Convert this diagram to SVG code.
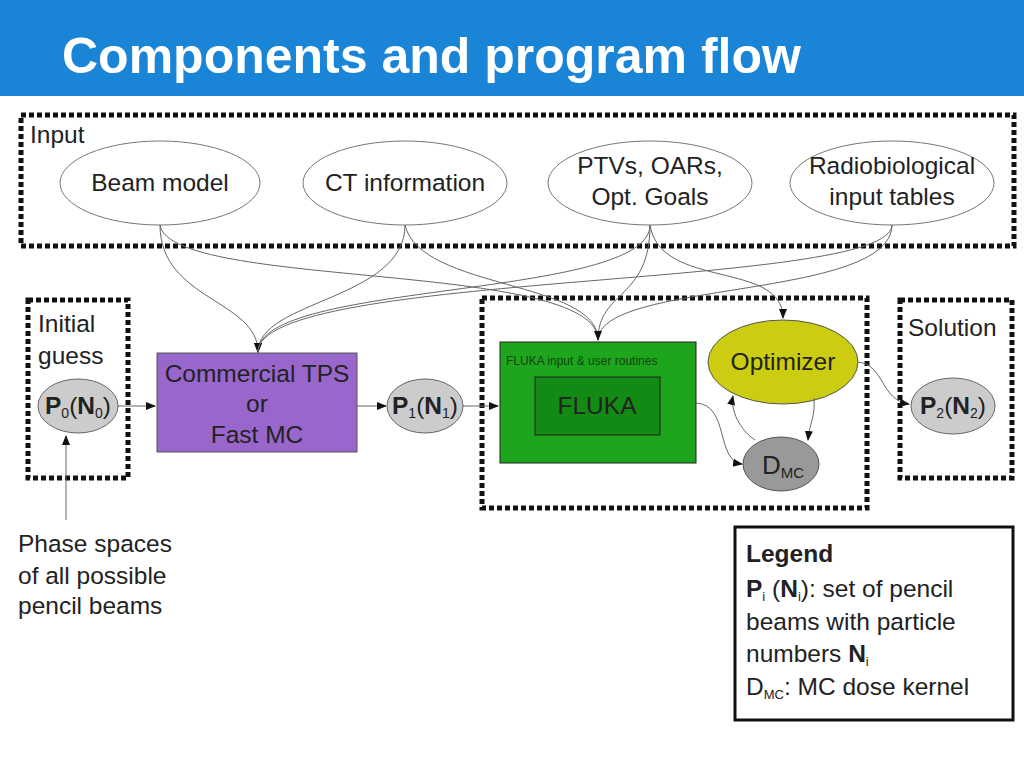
<svg xmlns="http://www.w3.org/2000/svg" width="1024" height="768" viewBox="0 0 1024 768">
<style>
text{font-family:"Liberation Sans",Arial,sans-serif;fill:#222}
.dash{fill:none;stroke:#111;stroke-width:5;stroke-dasharray:5,3}
.ell{fill:#fff;stroke:#777;stroke-width:1}
.c{fill:none;stroke:#666;stroke-width:1}
.t{font-size:24.5px}
</style>
<defs><marker id="a" markerWidth="10" markerHeight="10" refX="9" refY="5" orient="auto" markerUnits="userSpaceOnUse"><path d="M0,1 L10,5 L0,9z" fill="#111"/></marker></defs>
<rect width="1024" height="768" fill="#fff"/>
<rect width="1024" height="96" fill="#1a84d6"/>
<text x="62" y="73" style="font-size:50px;font-weight:bold;fill:#fff">Components and program flow</text>
<rect class="dash" x="21" y="115" width="993" height="131"/>
<rect class="dash" x="28" y="300" width="100" height="178"/>
<rect class="dash" x="482" y="298" width="385" height="210"/>
<rect class="dash" x="900" y="300" width="112" height="178"/>
<text x="30" y="143" class="t">Input</text>
<g id="beam"><ellipse class="ell" cx="160" cy="183" rx="100" ry="42"/><text x="160" y="191" class="t" text-anchor="middle">Beam model</text></g>
<g id="ct"><ellipse class="ell" cx="405" cy="183" rx="102" ry="42"/><text x="405" y="191" class="t" text-anchor="middle">CT information</text></g>
<g id="ptv"><ellipse class="ell" cx="650" cy="183" rx="102" ry="42"/><text x="650" y="174" class="t" text-anchor="middle">PTVs, OARs,</text><text x="650" y="205" class="t" text-anchor="middle">Opt. Goals</text></g>
<g id="radio"><ellipse class="ell" cx="892" cy="183" rx="102" ry="42"/><text x="892" y="174" class="t" text-anchor="middle">Radiobiological</text><text x="892" y="205" class="t" text-anchor="middle">input tables</text></g>
<g id="init"><text x="38" y="332" class="t">Initial</text><text x="38" y="364" class="t">guess</text>
<ellipse cx="78" cy="406" rx="40" ry="27" fill="#ccc" stroke="#666"/><text x="78" y="414" class="t" text-anchor="middle"><tspan font-weight="bold">P</tspan><tspan font-size="14" dy="4">0</tspan><tspan dy="-4">(</tspan><tspan font-weight="bold">N</tspan><tspan font-size="14" dy="4">0</tspan><tspan dy="-4">)</tspan></text></g>
<g id="tps"><rect x="157" y="353" width="200" height="99" fill="#9966cc" stroke="#555"/><text x="257" y="382" class="t" text-anchor="middle">Commercial TPS</text><text x="257" y="412" class="t" text-anchor="middle">or</text><text x="257" y="443" class="t" text-anchor="middle">Fast MC</text></g>
<g id="p1"><ellipse cx="425" cy="406" rx="38" ry="27" fill="#ccc" stroke="#666"/><text x="425" y="414" class="t" text-anchor="middle"><tspan font-weight="bold">P</tspan><tspan font-size="14" dy="4">1</tspan><tspan dy="-4">(</tspan><tspan font-weight="bold">N</tspan><tspan font-size="14" dy="4">1</tspan><tspan dy="-4">)</tspan></text></g>
<g id="fluka"><rect x="500" y="342" width="196" height="121" fill="#1ea51e" stroke="#222"/><text x="506" y="365" style="font-size:12px;fill:#114411">FLUKA input &amp; user routines</text>
<rect x="535" y="377" width="125" height="58" fill="#138a13" stroke="#222"/><text x="597" y="414" class="t" text-anchor="middle">FLUKA</text></g>
<g id="opt"><ellipse cx="783" cy="362" rx="75" ry="42" fill="#cccc11" stroke="#555"/><text x="783" y="370" class="t" text-anchor="middle">Optimizer</text></g>
<g id="dmc"><ellipse cx="781" cy="464" rx="38" ry="27" fill="#999" stroke="#555"/><text x="762" y="474" style="font-size:26px;fill:#222">D<tspan font-size="15" dy="4">MC</tspan></text></g>
<g id="sol"><text x="908" y="336" class="t">Solution</text><ellipse cx="953" cy="406" rx="42" ry="28" fill="#ccc" stroke="#666"/><text x="953" y="414" class="t" text-anchor="middle"><tspan font-weight="bold">P</tspan><tspan font-size="14" dy="4">2</tspan><tspan dy="-4">(</tspan><tspan font-weight="bold">N</tspan><tspan font-size="14" dy="4">2</tspan><tspan dy="-4">)</tspan></text></g>
<g id="phase"><text x="18" y="552" class="t">Phase spaces</text><text x="18" y="584" class="t">of all possible</text><text x="18" y="614" class="t">pencil beams</text></g>
<g id="legend"><rect x="735" y="527" width="278" height="193" fill="#fff" stroke="#111" stroke-width="3"/>
<text x="746" y="562" class="t" font-weight="bold">Legend</text>
<text x="746" y="597" class="t"><tspan font-weight="bold">P</tspan><tspan font-size="13" dy="4">i</tspan><tspan dy="-4"> (</tspan><tspan font-weight="bold">N</tspan><tspan font-size="13" dy="4">i</tspan><tspan dy="-4">): set of pencil</tspan></text>
<text x="746" y="630" class="t">beams with particle</text>
<text x="746" y="662" class="t">numbers <tspan font-weight="bold">N</tspan><tspan font-size="13" dy="4">i</tspan></text>
<text x="746" y="695" class="t">D<tspan font-size="13" dy="4">MC</tspan><tspan dy="-4">: MC dose kernel</tspan></text></g>
<g id="connectors">
<path class="c" d="M160,225 C160,300 258,300 258,352" marker-end="url(#a)"/>
<path class="c" d="M405,225 C405,300 258,300 258,352" marker-end="url(#a)"/>
<path class="c" d="M650,225 C650,300 258,280 258,352"/>
<path class="c" d="M892,225 C892,290 258,270 258,352"/>
<path class="c" d="M160,225 C170,290 598,260 598,340"/>
<path class="c" d="M405,225 C420,290 598,280 598,340"/>
<path class="c" d="M650,225 C650,300 598,290 598,340"/>
<path class="c" d="M892,225 C892,300 598,280 598,340" marker-end="url(#a)"/>
<path class="c" d="M650,225 C660,290 783,260 783,318" marker-end="url(#a)"/>
<path class="c" d="M118,406 L155,406" marker-end="url(#a)"/>
<path class="c" d="M357,406 L386,406" marker-end="url(#a)"/>
<path class="c" d="M463,406 L498,406" marker-end="url(#a)"/>
<path class="c" d="M696,403 C730,405 715,460 742,464" marker-end="url(#a)"/>
<path class="c" d="M755,440 C740,430 730,410 733,396" marker-end="url(#a)"/>
<path class="c" d="M814,398 C815,420 810,420 808,440" marker-end="url(#a)"/>
<path class="c" d="M858,362 C885,365 880,400 909,404" marker-end="url(#a)"/>
<path class="c" d="M66,520 L66,436" marker-end="url(#a)"/>
</g>
</svg>
